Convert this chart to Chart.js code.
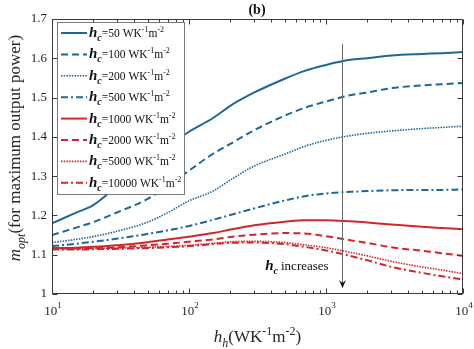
<!DOCTYPE html>
<html>
<head>
<meta charset="utf-8">
<script src="https://cdn.jsdelivr.net/npm/chart.js@4/dist/chart.umd.min.js"></script>
<style>
  html, body { margin: 0; padding: 0; background: #fff; }
  #wrap { width: 474px; height: 349px; }
</style>
</head>
<body>
<div id="wrap"><canvas id="c" width="474" height="349"></canvas></div>
<script>
// Heat-transfer coefficient of the hot side, h_h (W K^-1 m^-2)
const hh = [10, 15, 20, 30, 50, 70, 100, 150, 200, 300, 500, 700, 1000, 1500, 2000, 3000, 5000, 7000, 10000];

// Optimal m for maximum output power, one array per cold-side coefficient h_c
const hc50    = [1.180, 1.207, 1.226, 1.275, 1.336, 1.376, 1.413, 1.448, 1.479, 1.513, 1.548, 1.568, 1.583, 1.596, 1.600, 1.607, 1.611, 1.613, 1.616];
const hc100   = [1.150, 1.169, 1.183, 1.208, 1.242, 1.275, 1.314, 1.357, 1.382, 1.417, 1.454, 1.474, 1.490, 1.506, 1.513, 1.524, 1.531, 1.534, 1.537];
const hc200   = [1.131, 1.139, 1.146, 1.160, 1.183, 1.207, 1.237, 1.262, 1.290, 1.326, 1.356, 1.376, 1.391, 1.403, 1.409, 1.415, 1.421, 1.424, 1.427];
const hc500   = [1.122, 1.128, 1.133, 1.141, 1.153, 1.162, 1.173, 1.189, 1.201, 1.218, 1.238, 1.249, 1.256, 1.260, 1.262, 1.264, 1.265, 1.265, 1.266];
const hc1000  = [1.117, 1.118, 1.120, 1.124, 1.132, 1.139, 1.146, 1.155, 1.164, 1.175, 1.184, 1.188, 1.188, 1.185, 1.182, 1.177, 1.171, 1.168, 1.165];
const hc2000  = [1.116, 1.116, 1.117, 1.119, 1.124, 1.128, 1.133, 1.139, 1.145, 1.151, 1.155, 1.154, 1.147, 1.137, 1.130, 1.119, 1.110, 1.104, 1.097];
const hc5000  = [1.115, 1.115, 1.116, 1.117, 1.119, 1.121, 1.124, 1.129, 1.133, 1.134, 1.131, 1.125, 1.118, 1.106, 1.097, 1.083, 1.069, 1.061, 1.052];
const hc10000 = [1.113, 1.113, 1.114, 1.115, 1.117, 1.119, 1.122, 1.127, 1.130, 1.131, 1.127, 1.120, 1.111, 1.097, 1.086, 1.069, 1.054, 1.045, 1.037];

const hcValues = [50, 100, 200, 500, 1000, 2000, 5000, 10000];
const seriesValues = [hc50, hc100, hc200, hc500, hc1000, hc2000, hc5000, hc10000];

// Axis ticks
const xTickExponents = [1, 2, 3, 4];
const yTickValues = [1, 1.1, 1.2, 1.3, 1.4, 1.5, 1.6, 1.7];

// Trend arrow position (h_h) and its vertical extent (m_opt)
const arrowH = 1310;
const arrowTop = 1.636;
const arrowBottom = 1.018;
const arrowLabelH = 360;
const arrowLabelM = 1.061;

const SERIF = "'Liberation Serif', 'Times New Roman', serif";
const BLUE = '#1d6796';
const RED = '#d3262b';

const styles = [
  { color: BLUE, dash: [], width: 2 },
  { color: BLUE, dash: [7, 4], width: 2 },
  { color: BLUE, dash: [1.5, 1.2], width: 1.6 },
  { color: BLUE, dash: [7, 3, 2, 3], width: 2 },
  { color: RED,  dash: [], width: 2 },
  { color: RED,  dash: [7, 4], width: 2 },
  { color: RED,  dash: [1.5, 1.2], width: 1.6 },
  { color: RED,  dash: [7, 3, 2, 3], width: 2 }
];

const datasets = seriesValues.map((vals, k) => ({
  label: 'h_c=' + hcValues[k],
  data: hh.map((x, i) => ({ x: x, y: vals[i] })),
  borderColor: styles[k].color,
  borderDash: styles[k].dash,
  borderWidth: styles[k].width,
  pointRadius: 0,
  fill: false,
  cubicInterpolationMode: 'monotone'
}));

// Draws a run of text pieces with their own fonts and baseline offsets
function richWidth(ctx, segs) {
  let w = 0;
  segs.forEach(s => { ctx.font = s.f; w += ctx.measureText(s.t).width + (s.gap || 0); });
  return w;
}
function drawRich(ctx, segs, x, y, align) {
  const w = richWidth(ctx, segs);
  let cx = align === 'center' ? x - w / 2 : (align === 'right' ? x - w : x);
  ctx.textAlign = 'left';
  ctx.textBaseline = 'alphabetic';
  segs.forEach(s => {
    ctx.font = s.f;
    ctx.fillText(s.t, cx, y + (s.dy || 0));
    cx += ctx.measureText(s.t).width + (s.gap || 0);
  });
}

const unitSegs = (size) => [
  { t: 'WK', f: size + 'px ' + SERIF },
  { t: '-1', f: Math.round(size * 0.68) + 'px ' + SERIF, dy: -Math.round(size * 0.42) },
  { t: 'm', f: size + 'px ' + SERIF },
  { t: '-2', f: Math.round(size * 0.68) + 'px ' + SERIF, dy: -Math.round(size * 0.42) }
];

const decorations = {
  id: 'decorations',
  afterDatasetsDraw(chart) {
    const ctx = chart.ctx;
    const a = chart.chartArea;
    const xs = chart.scales.x, ys = chart.scales.y;
    ctx.save();

    // Trend arrow
    const ax = Math.round(xs.getPixelForValue(arrowH)) + 0.5;
    const ay1 = ys.getPixelForValue(arrowTop);
    const ay2 = ys.getPixelForValue(arrowBottom);
    ctx.strokeStyle = '#6a6a6a';
    ctx.lineWidth = 1;
    ctx.setLineDash([]);
    ctx.beginPath();
    ctx.moveTo(ax, ay1);
    ctx.lineTo(ax, ay2 - 2);
    ctx.stroke();
    ctx.fillStyle = '#111';
    ctx.beginPath();
    ctx.moveTo(ax, ay2 + 1);
    ctx.lineTo(ax - 3.5, ay2 - 7);
    ctx.lineTo(ax, ay2 - 4);
    ctx.lineTo(ax + 3.5, ay2 - 7);
    ctx.closePath();
    ctx.fill();

    // Annotation
    ctx.fillStyle = '#111';
    const lx = xs.getPixelForValue(arrowLabelH);
    const ly = ys.getPixelForValue(arrowLabelM);
    drawRich(ctx, [
      { t: 'h', f: 'bold italic 15px ' + SERIF },
      { t: 'c', f: 'bold italic 10px ' + SERIF, dy: 4, gap: 3 },
      { t: 'increases', f: '13px ' + SERIF }
    ], lx, ly, 'left');

    // Axes box with inward ticks
    ctx.strokeStyle = '#3a3a3a';
    ctx.lineWidth = 1;
    const L = Math.round(a.left) + 0.5, R = Math.round(a.right) - 0.5;
    const T = Math.round(a.top) + 0.5, B = Math.round(a.bottom) - 0.5;
    ctx.strokeRect(L, T, R - L, B - T);
    ctx.beginPath();
    xTickExponents.forEach(e => {
      for (let m = 1; m <= 9; m++) {
        const v = m * Math.pow(10, e);
        if (v > Math.pow(10, xTickExponents[xTickExponents.length - 1])) break;
        const px = Math.round(xs.getPixelForValue(v)) + 0.5;
        const len = m === 1 ? 5 : 3;
        ctx.moveTo(px, B); ctx.lineTo(px, B - len);
        ctx.moveTo(px, T); ctx.lineTo(px, T + len);
      }
    });
    yTickValues.forEach(v => {
      const py = Math.round(ys.getPixelForValue(v)) + 0.5;
      ctx.moveTo(L, py); ctx.lineTo(L + 5, py);
      ctx.moveTo(R, py); ctx.lineTo(R - 5, py);
    });
    ctx.stroke();

    // X tick labels (powers of ten)
    ctx.fillStyle = '#262626';
    xTickExponents.forEach(e => {
      const px = xs.getPixelForValue(Math.pow(10, e));
      drawRich(ctx, [
        { t: '10', f: '13px ' + SERIF },
        { t: String(e), f: '9px ' + SERIF, dy: -7 }
      ], px + 1, a.bottom + 21, 'center');
    });

    // Axis titles
    drawRich(ctx, [
      { t: 'h', f: 'italic 17px ' + SERIF },
      { t: 'h', f: 'italic 12px ' + SERIF, dy: 5 },
      { t: '(', f: '17px ' + SERIF }
    ].concat(unitSegs(17)).concat([{ t: ')', f: '17px ' + SERIF }]), (a.left + a.right) / 2, 342, 'center');

    ctx.save();
    ctx.translate(20, 148);
    ctx.rotate(-Math.PI / 2);
    drawRich(ctx, [
      { t: 'm', f: 'italic 17px ' + SERIF },
      { t: 'opt', f: 'italic 12px ' + SERIF, dy: 5 },
      { t: '(for maximum output power)', f: '17px ' + SERIF }
    ], 0, 0, 'center');
    ctx.restore();

    // Panel label
    ctx.fillStyle = '#111';
    drawRich(ctx, [{ t: '(b)', f: 'bold 14px ' + SERIF }], 257, 14, 'center');

    // Legend
    const boxL = 57.5, boxT = 22.5, boxW = 127, boxH = 172;
    ctx.fillStyle = '#fff';
    ctx.fillRect(boxL, boxT, boxW, boxH);
    ctx.strokeStyle = '#7a7a7a';
    ctx.lineWidth = 1;
    ctx.strokeRect(boxL, boxT, boxW, boxH);
    hcValues.forEach((hc, k) => {
      const cy = 33 + k * 21.4;
      const st = styles[k];
      ctx.strokeStyle = st.color;
      ctx.lineWidth = st.width;
      ctx.setLineDash(st.dash);
      ctx.beginPath();
      ctx.moveTo(61, cy);
      ctx.lineTo(87, cy);
      ctx.stroke();
      ctx.setLineDash([]);
      ctx.fillStyle = '#111';
      drawRich(ctx, [
        { t: 'h', f: 'bold italic 15px ' + SERIF },
        { t: 'c', f: 'bold italic 10px ' + SERIF, dy: 4 },
        { t: '=' + hc + ' ', f: '11.5px ' + SERIF }
      ].concat(unitSegs(11.5)), 89, cy + 4, 'left');
    });

    ctx.restore();
  }
};

new Chart(document.getElementById('c'), {
  type: 'line',
  data: { datasets: datasets },
  options: {
    responsive: false,
    animation: false,
    devicePixelRatio: 1,
    layout: { padding: { top: 19, right: 11, left: 0, bottom: 0 } },
    plugins: { legend: { display: false }, tooltip: { enabled: false } },
    scales: {
      x: {
        type: 'logarithmic',
        min: 10,
        max: 10000,
        grid: { display: false, drawTicks: false },
        border: { display: false },
        ticks: { display: false },
        afterFit(s) { s.height = 55; }
      },
      y: {
        min: 1,
        max: 1.7,
        grid: { display: false, drawTicks: false },
        border: { display: false },
        afterBuildTicks(s) { s.ticks = yTickValues.map(v => ({ value: v })); },
        ticks: {
          font: { family: SERIF, size: 13 },
          color: '#262626',
          padding: 5,
          callback: v => String(+Number(v).toFixed(1))
        },
        afterFit(s) { s.width = 52; }
      }
    }
  },
  plugins: [decorations]
});
</script>
</body>
</html>
